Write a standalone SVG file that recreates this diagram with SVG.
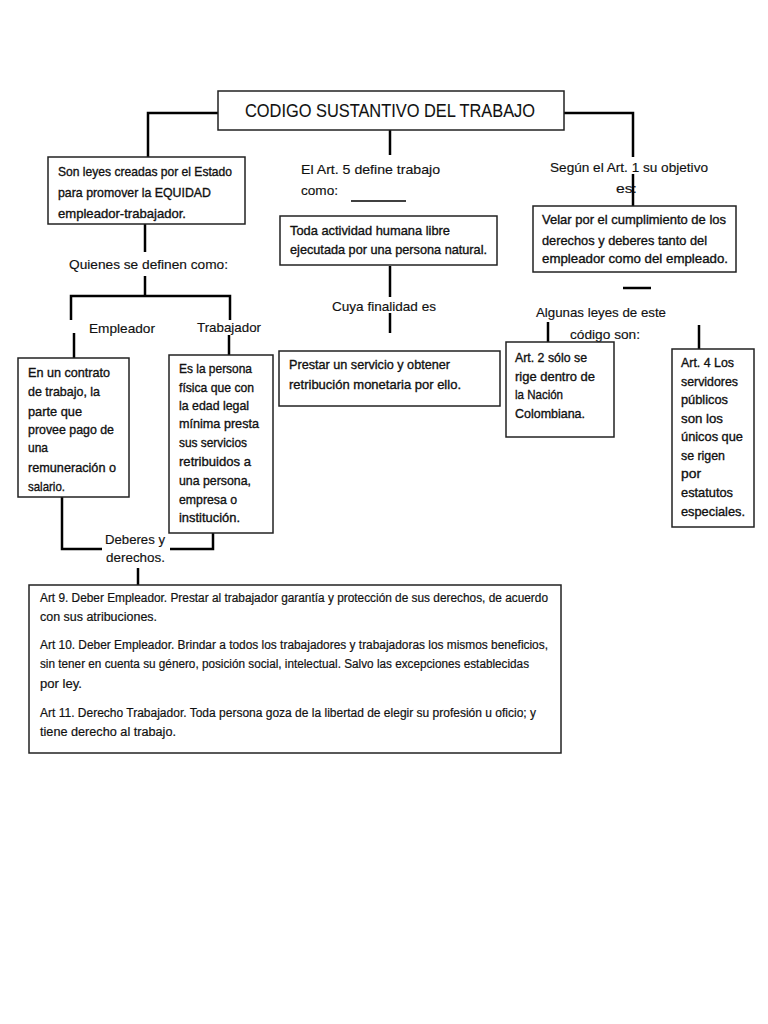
<svg xmlns="http://www.w3.org/2000/svg" width="768" height="1024" viewBox="0 0 768 1024">
<style>
.box{fill:#fff;stroke:#222;stroke-width:1.5}
.c{fill:none;stroke:#000;stroke-width:2.5}
.thin{fill:none;stroke:#000;stroke-width:1.5}
text{font-family:"Liberation Sans",Arial,sans-serif;font-size:13px;fill:#111;stroke:#111;stroke-width:0.15}
.b{stroke-width:0.35}
.title{font-size:19px;stroke-width:0.1}
.s{font-size:12.5px;stroke-width:0.2}
</style>
<rect width="768" height="1024" fill="#fff"/>
<g id="connectors">
<polyline class="c" points="218,113 148,113 148,157"/>
<line class="c" x1="390" y1="130" x2="390" y2="155"/>
<line class="thin" x1="351" y1="201" x2="406" y2="201"/>
<polyline class="c" points="564,113 633,113 633,157"/>
<line class="c" x1="633" y1="174" x2="633" y2="206"/>
<line class="c" x1="145" y1="224" x2="145" y2="252"/>
<line class="c" x1="145" y1="276" x2="145" y2="296"/>
<polyline class="c" points="71,320 71,296 230,296 230,320"/>
<line class="c" x1="74" y1="333" x2="74" y2="358"/>
<line class="c" x1="229" y1="335" x2="229" y2="355"/>
<line class="c" x1="390" y1="266" x2="390" y2="297"/>
<line class="c" x1="390" y1="313" x2="390" y2="333"/>
<line class="c" x1="623" y1="288" x2="651" y2="288"/>
<line class="c" x1="548" y1="322" x2="548" y2="342"/>
<line class="c" x1="699" y1="325" x2="699" y2="350"/>
<polyline class="c" points="62,497 62,549 102,549"/>
<polyline class="c" points="170,549 213,549 213,533"/>
<line class="c" x1="138" y1="568" x2="138" y2="585"/>
</g>
<g id="labels">
<text x="69" y="269" textLength="159" lengthAdjust="spacingAndGlyphs">Quienes se definen como:</text>
<text x="89" y="333" textLength="66" lengthAdjust="spacingAndGlyphs">Empleador</text>
<text x="197" y="332" textLength="64" lengthAdjust="spacingAndGlyphs">Trabajador</text>
<text x="301" y="174" textLength="139" lengthAdjust="spacingAndGlyphs">El Art. 5 define trabajo</text>
<text x="301" y="195" textLength="37" lengthAdjust="spacingAndGlyphs">como:</text>
<text x="332" y="311" textLength="104" lengthAdjust="spacingAndGlyphs">Cuya finalidad es</text>
<text x="550" y="172" textLength="158" lengthAdjust="spacingAndGlyphs">Según el Art. 1 su objetivo</text>
<text x="616" y="193" textLength="21" lengthAdjust="spacingAndGlyphs">es:</text>
<text x="536" y="317" textLength="130" lengthAdjust="spacingAndGlyphs">Algunas leyes de este</text>
<text x="570" y="339" textLength="70" lengthAdjust="spacingAndGlyphs">código son:</text>
<text x="105" y="544" textLength="60" lengthAdjust="spacingAndGlyphs">Deberes y</text>
<text x="106" y="562" textLength="59" lengthAdjust="spacingAndGlyphs">derechos.</text>
</g>
<g id="title">
<rect class="box" x="218" y="91" width="346" height="39"/>
<text class="title" x="245" y="117" textLength="290" lengthAdjust="spacingAndGlyphs">CODIGO SUSTANTIVO DEL TRABAJO</text>
</g>
<g id="estado">
<rect class="box" x="48" y="157" width="197" height="67"/>
<text class="b" x="58" y="176" textLength="174" lengthAdjust="spacingAndGlyphs">Son leyes creadas por el Estado</text>
<text class="b" x="58" y="197" textLength="153" lengthAdjust="spacingAndGlyphs">para promover la EQUIDAD</text>
<text class="b" x="58" y="218" textLength="128" lengthAdjust="spacingAndGlyphs">empleador-trabajador.</text>
</g>
<g id="actividad">
<rect class="box" x="280" y="216" width="217" height="49"/>
<text class="b" x="290" y="235" textLength="160" lengthAdjust="spacingAndGlyphs">Toda actividad humana libre</text>
<text class="b" x="290" y="254" textLength="197" lengthAdjust="spacingAndGlyphs">ejecutada por una persona natural.</text>
</g>
<g id="velar">
<rect class="box" x="533" y="206" width="203" height="66"/>
<text class="b" x="542" y="224" textLength="184" lengthAdjust="spacingAndGlyphs">Velar por el cumplimiento de los</text>
<text class="b" x="542" y="245" textLength="165" lengthAdjust="spacingAndGlyphs">derechos y deberes tanto del</text>
<text class="b" x="542" y="263" textLength="186" lengthAdjust="spacingAndGlyphs">empleador como del empleado.</text>
</g>
<g id="empleador">
<rect class="box" x="18" y="358" width="111" height="139"/>
<text class="b" x="28" y="377" textLength="82" lengthAdjust="spacingAndGlyphs">En un contrato</text>
<text class="b" x="28" y="396" textLength="72" lengthAdjust="spacingAndGlyphs">de trabajo, la</text>
<text class="b" x="28" y="416" textLength="54" lengthAdjust="spacingAndGlyphs">parte que</text>
<text class="b" x="28" y="434" textLength="86" lengthAdjust="spacingAndGlyphs">provee pago de</text>
<text class="b" x="28" y="452" textLength="20" lengthAdjust="spacingAndGlyphs">una</text>
<text class="b" x="28" y="472" textLength="88" lengthAdjust="spacingAndGlyphs">remuneración o</text>
<text class="b" x="28" y="491" textLength="37" lengthAdjust="spacingAndGlyphs">salario.</text>
</g>
<g id="trabajador">
<rect class="box" x="169" y="355" width="104" height="178"/>
<text class="b" x="179" y="373" textLength="73" lengthAdjust="spacingAndGlyphs">Es la persona</text>
<text class="b" x="179" y="392" textLength="75" lengthAdjust="spacingAndGlyphs">física que con</text>
<text class="b" x="179" y="410" textLength="70" lengthAdjust="spacingAndGlyphs">la edad legal</text>
<text class="b" x="179" y="428" textLength="80" lengthAdjust="spacingAndGlyphs">mínima presta</text>
<text class="b" x="179" y="447" textLength="68" lengthAdjust="spacingAndGlyphs">sus servicios</text>
<text class="b" x="179" y="466" textLength="72" lengthAdjust="spacingAndGlyphs">retribuidos a</text>
<text class="b" x="179" y="485" textLength="72" lengthAdjust="spacingAndGlyphs">una persona,</text>
<text class="b" x="179" y="504" textLength="58" lengthAdjust="spacingAndGlyphs">empresa o</text>
<text class="b" x="179" y="522" textLength="61" lengthAdjust="spacingAndGlyphs">institución.</text>
</g>
<g id="prestar">
<rect class="box" x="279" y="351" width="221" height="55"/>
<text class="b" x="289" y="369" textLength="161" lengthAdjust="spacingAndGlyphs">Prestar un servicio y obtener</text>
<text class="b" x="289" y="389" textLength="172" lengthAdjust="spacingAndGlyphs">retribución monetaria por ello.</text>
</g>
<g id="art2">
<rect class="box" x="506" y="342" width="108" height="95"/>
<text class="b" x="515" y="362" textLength="72" lengthAdjust="spacingAndGlyphs">Art. 2 sólo se</text>
<text class="b" x="515" y="381" textLength="80" lengthAdjust="spacingAndGlyphs">rige dentro de</text>
<text class="b" x="515" y="399" textLength="48" lengthAdjust="spacingAndGlyphs">la Nación</text>
<text class="b" x="515" y="418" textLength="70" lengthAdjust="spacingAndGlyphs">Colombiana.</text>
</g>
<g id="art4">
<rect class="box" x="672" y="349" width="82" height="178"/>
<text class="b" x="681" y="367" textLength="53" lengthAdjust="spacingAndGlyphs">Art. 4 Los</text>
<text class="b" x="681" y="386" textLength="57" lengthAdjust="spacingAndGlyphs">servidores</text>
<text class="b" x="681" y="404" textLength="47" lengthAdjust="spacingAndGlyphs">públicos</text>
<text class="b" x="681" y="423" textLength="42" lengthAdjust="spacingAndGlyphs">son los</text>
<text class="b" x="681" y="441" textLength="62" lengthAdjust="spacingAndGlyphs">únicos que</text>
<text class="b" x="681" y="460" textLength="44" lengthAdjust="spacingAndGlyphs">se rigen</text>
<text class="b" x="681" y="478" textLength="20" lengthAdjust="spacingAndGlyphs">por</text>
<text class="b" x="681" y="497" textLength="52" lengthAdjust="spacingAndGlyphs">estatutos</text>
<text class="b" x="681" y="516" textLength="64" lengthAdjust="spacingAndGlyphs">especiales.</text>
</g>
<g id="articulos">
<rect class="box" x="29" y="585" width="532" height="168"/>
<text class="s" x="40" y="602" textLength="508" lengthAdjust="spacingAndGlyphs">Art 9. Deber Empleador. Prestar al trabajador garantía y protección de sus derechos, de acuerdo</text>
<text class="s" x="40" y="621" textLength="117" lengthAdjust="spacingAndGlyphs">con sus atribuciones.</text>
<text class="s" x="40" y="649" textLength="508" lengthAdjust="spacingAndGlyphs">Art 10. Deber Empleador. Brindar a todos los trabajadores y trabajadoras los mismos beneficios,</text>
<text class="s" x="40" y="668" textLength="489" lengthAdjust="spacingAndGlyphs">sin tener en cuenta su género, posición social, intelectual. Salvo las excepciones establecidas</text>
<text class="s" x="40" y="688" textLength="42" lengthAdjust="spacingAndGlyphs">por ley.</text>
<text class="s" x="40" y="717" textLength="496" lengthAdjust="spacingAndGlyphs">Art 11. Derecho Trabajador. Toda persona goza de la libertad de elegir su profesión u oficio; y</text>
<text class="s" x="40" y="736" textLength="136" lengthAdjust="spacingAndGlyphs">tiene derecho al trabajo.</text>
</g>
</svg>
